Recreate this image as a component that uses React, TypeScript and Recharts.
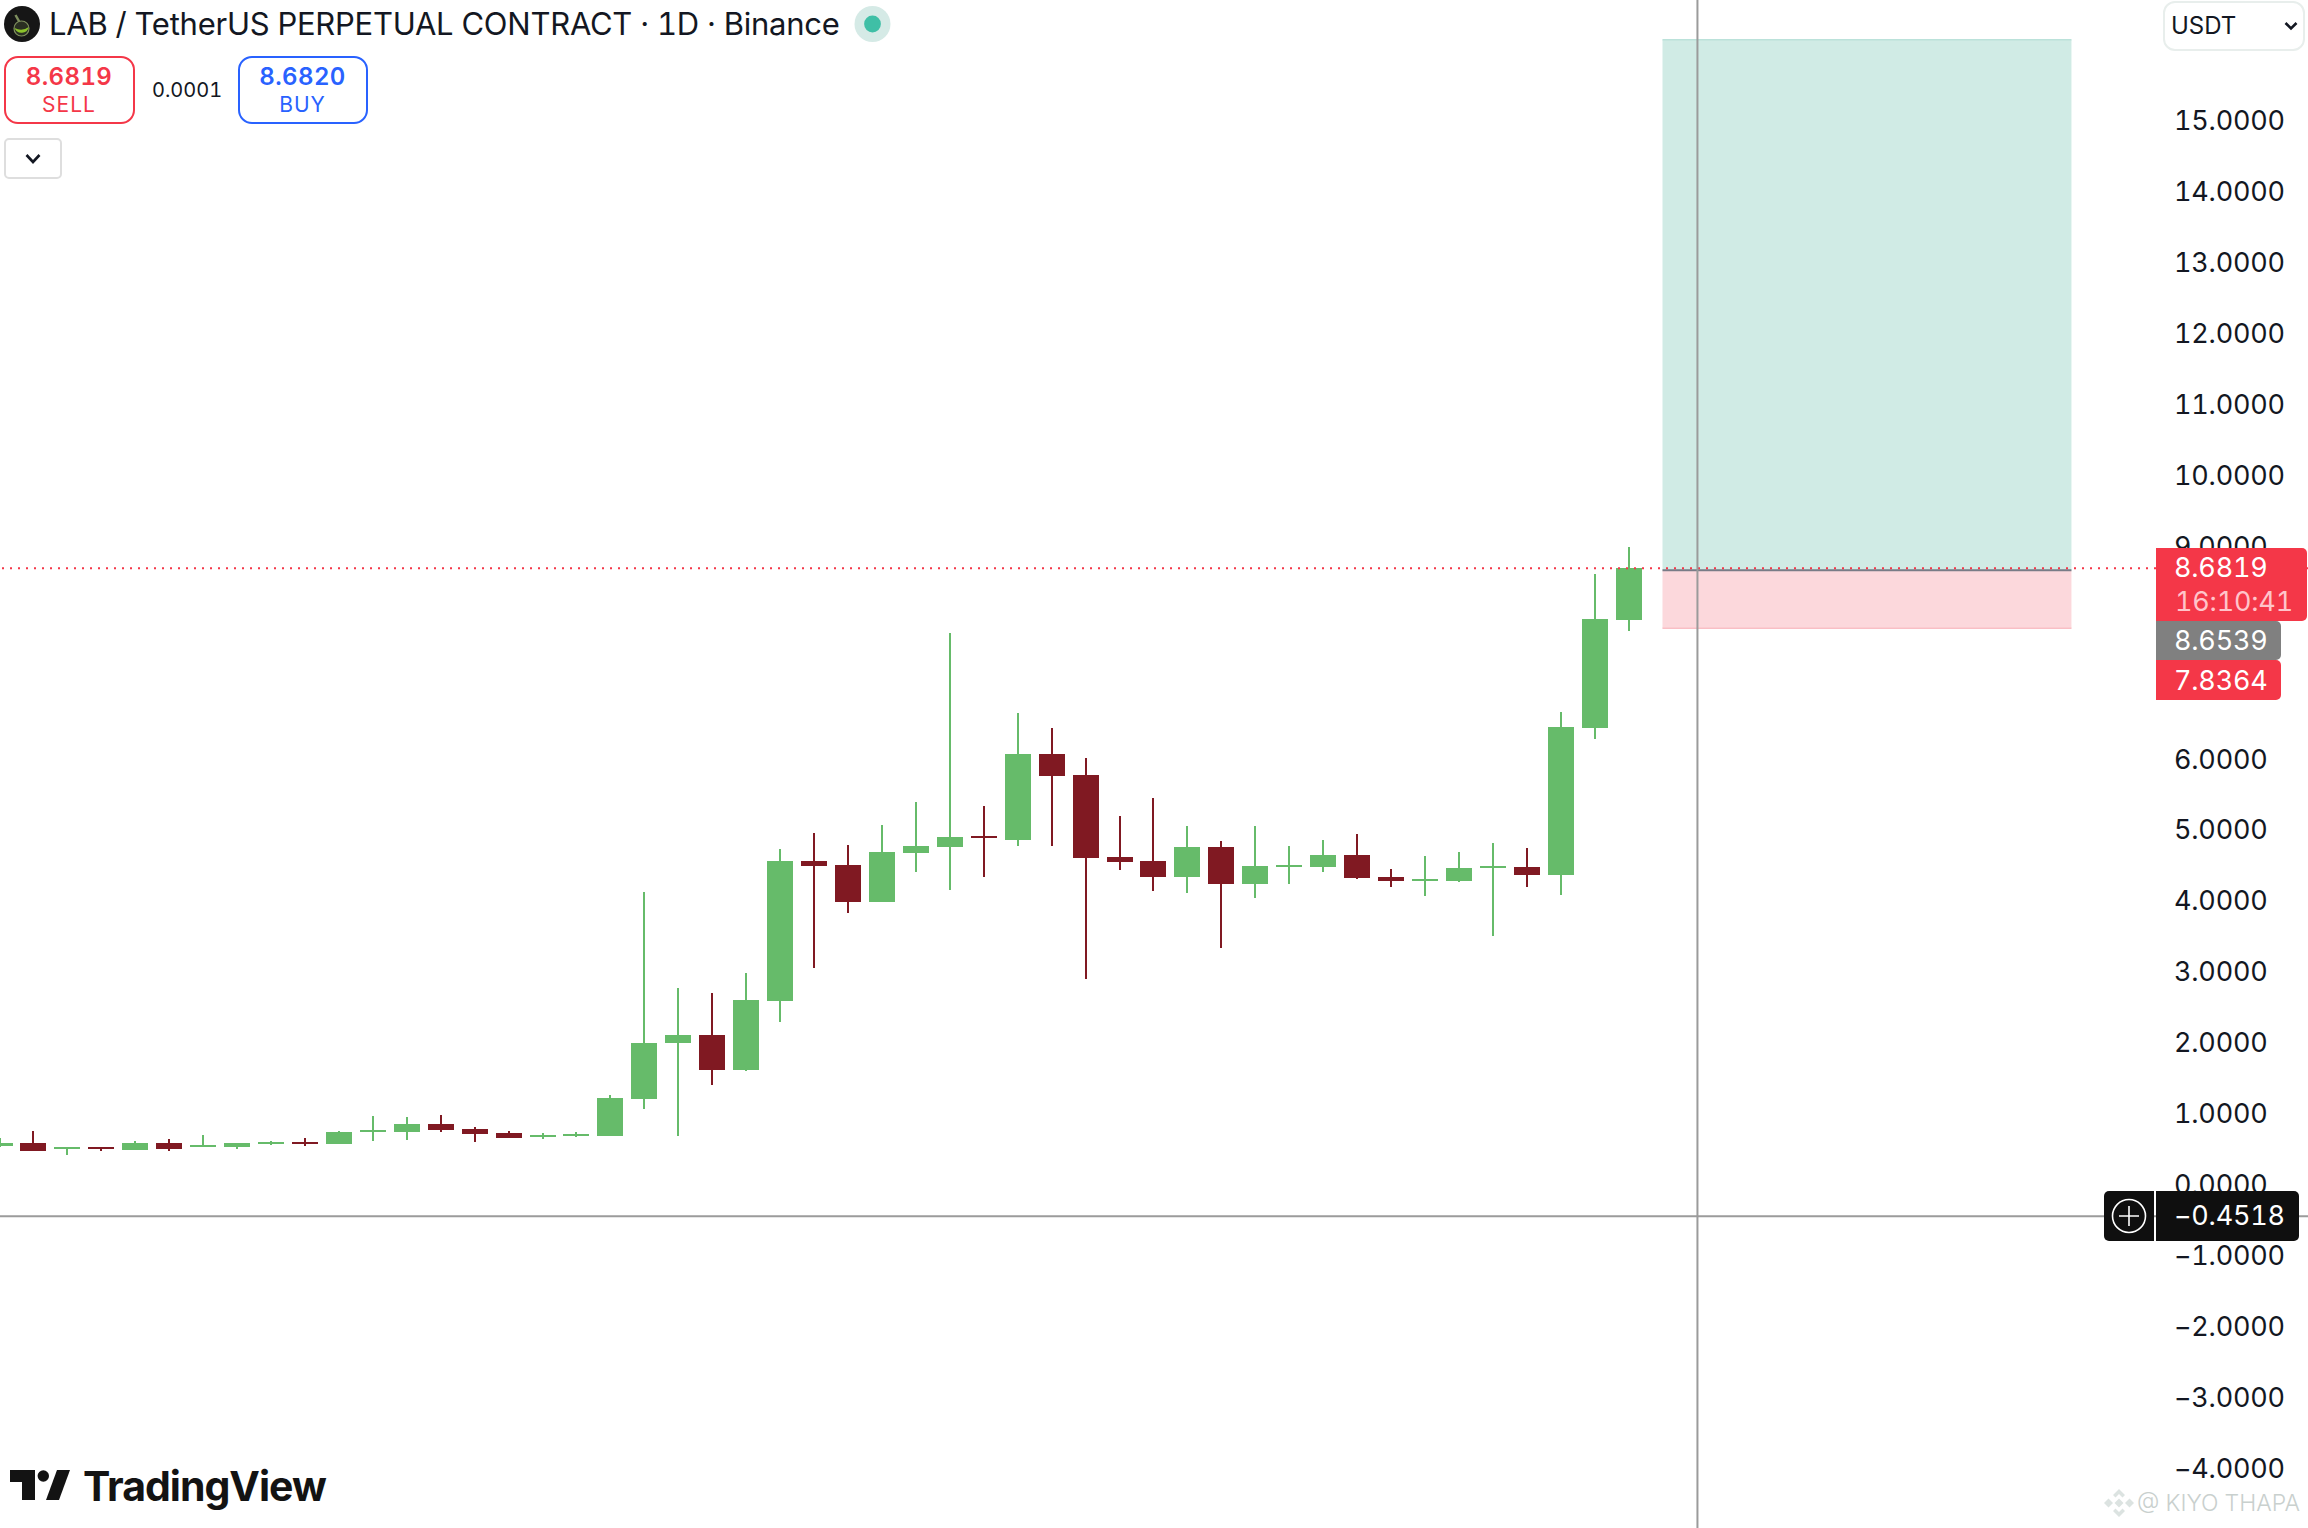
import React from "react";
import { ComposedChart, Bar, XAxis, YAxis, ReferenceArea, ReferenceLine } from "recharts";

const W = 2308;
const H = 1528;
const FONT = "Inter, 'Noto Sans', sans-serif";

const opens = [0.538,0.581,0.496,0.524,0.482,0.581,0.524,0.524,0.567,0.595,0.567,0.736,0.736,0.848,0.778,0.722,0.665,0.679,0.679,1.202,1.992,2.103,1.61,2.581,4.554,4.499,3.975,4.67,4.751,4.907,4.851,6.064,5.767,4.61,4.554,4.328,4.753,4.231,4.471,4.471,4.64,4.33,4.274,4.274,4.457,4.471,4.358,6.43,7.952];
const highs = [0.651,0.75,0.524,0.524,0.609,0.637,0.693,0.581,0.609,0.651,0.75,0.961,0.947,0.975,0.806,0.75,0.722,0.736,1.257,4.117,2.767,2.697,2.979,4.725,4.952,4.781,5.063,5.385,7.771,5.329,6.644,6.432,6.009,5.188,5.445,5.048,4.837,5.049,4.767,4.851,4.936,4.442,4.626,4.682,4.809,4.738,6.656,8.601,8.981];
const lows = [0.524,0.468,0.412,0.468,0.482,0.468,0.524,0.496,0.553,0.538,0.567,0.609,0.623,0.736,0.595,0.651,0.637,0.665,0.679,1.061,0.679,1.398,1.595,2.284,3.049,3.825,3.975,4.398,4.146,4.328,4.765,4.765,2.894,4.428,4.131,4.106,3.329,4.034,4.231,4.4,4.301,4.189,4.062,4.26,3.498,4.189,4.076,6.275,7.797];
const closes = [0.581,0.468,0.524,0.496,0.581,0.496,0.553,0.581,0.595,0.567,0.736,0.764,0.848,0.764,0.708,0.651,0.693,0.708,1.217,1.992,2.103,1.61,2.596,4.554,4.484,3.975,4.681,4.765,4.892,4.882,6.064,5.752,4.6,4.539,4.328,4.751,4.231,4.485,4.499,4.64,4.315,4.274,4.301,4.457,4.485,4.358,6.444,7.966,8.6819];

const priceTicks = [15,14,13,12,11,10,9,6,5,4,3,2,1,0,-1,-2,-3,-4];
const LAST_PRICE = 8.6819;
const ENTRY_PRICE = 8.6539;
const STOP_PRICE = 7.8364;
const TARGET_PRICE = 16.13;
const CROSS_PRICE = -0.4518;
const CROSS_BAR = 50.03;
const POS_START = 49;
const POS_END = 61.05;

const rows = opens.map((o, i) => ({
  idx: i,
  open: o,
  high: highs[i],
  low: lows[i],
  close: closes[i],
  range: [lows[i], highs[i]],
}));

const GREEN = "#66BB6A";
const DARK_RED = "#801922";
const RED = "#F43748";
const BLUE = "#2962FF";
const CROSS = "#9B9B9B";

function Candle(props: any) {
  const { x, y, width, height, payload } = props;
  const k = height / (payload.high - payload.low || 1);
  const color = payload.close >= payload.open ? GREEN : DARK_RED;
  const top = y + (payload.high - Math.max(payload.open, payload.close)) * k;
  const bh = Math.max(Math.abs(payload.open - payload.close) * k, 2);
  const cx = x + width / 2;
  return (
    <g shapeRendering="crispEdges">
      <rect x={cx - 1} y={y} width={2} height={Math.max(height, 1)} fill={color} />
      <rect x={x} y={top} width={width} height={bh} fill={color} />
    </g>
  );
}

function PriceTick(props: any) {
  const { y, payload } = props;
  const v = payload.value;
  const s = (v < 0 ? "\u2212" : "") + Math.abs(v).toFixed(4);
  return (
    <text x={2174} y={y + 10} textAnchor="start" fontFamily={FONT} fontSize={27} letterSpacing={-0.2} fill="#131722" style={{ fontVariantNumeric: "tabular-nums" }}>
      {s}
    </text>
  );
}

function T(p: { x: number; cy: number; size: number; color: string; weight?: number; center?: boolean; ls?: number; children: any }) {
  return (
    <div
      style={{
        position: "absolute",
        left: p.x,
        top: p.cy - 30,
        height: 60,
        lineHeight: "60px",
        fontFamily: FONT,
        fontSize: p.size,
        color: p.color,
        fontWeight: p.weight ?? 400,
        letterSpacing: p.ls ?? 0,
        fontVariantNumeric: "tabular-nums",
        whiteSpace: "nowrap",
        transform: p.center ? "translateX(-50%)" : undefined,
      }}
    >
      {p.children}
    </div>
  );
}

function Box(p: { x: number; y: number; w: number; h: number; style: React.CSSProperties; children?: any }) {
  return (
    <div style={{ position: "absolute", left: p.x, top: p.y, width: p.w, height: p.h, boxSizing: "border-box", ...p.style }}>
      {p.children}
    </div>
  );
}

export default function App() {
  return (
    <div style={{ position: "absolute", left: 0, top: 0, width: W, height: H, overflow: "hidden", background: "#fff" }}>
      <ComposedChart width={W} height={H} data={rows} margin={{ top: 0, right: 0, bottom: 0, left: 0 }}>
        <XAxis type="number" dataKey="idx" domain={[0.0147, 68.02]} allowDataOverflow hide />
        <YAxis
          orientation="right"
          mirror
          domain={[-4.846, 16.691]}
          allowDataOverflow
          ticks={priceTicks}
          interval={0}
          axisLine={false}
          tickLine={false}
          tick={<PriceTick />}
        />
        <ReferenceArea x1={POS_START} x2={POS_END} y1={ENTRY_PRICE} y2={TARGET_PRICE} fill="#D0EBE5" fillOpacity={1} stroke="none" />
        <ReferenceArea x1={POS_START} x2={POS_END} y1={STOP_PRICE} y2={ENTRY_PRICE} fill="#FCD8DC" fillOpacity={1} stroke="none" />
        <ReferenceLine segment={[{ x: POS_START, y: TARGET_PRICE }, { x: POS_END, y: TARGET_PRICE }]} stroke="#BBE2DA" strokeWidth={1.5} />
        <ReferenceLine segment={[{ x: POS_START, y: STOP_PRICE }, { x: POS_END, y: STOP_PRICE }]} stroke="#F9BFC5" strokeWidth={1.5} />
        <ReferenceLine segment={[{ x: POS_START, y: ENTRY_PRICE }, { x: POS_END, y: ENTRY_PRICE }]} stroke="#787B86" strokeWidth={2} />
        <Bar dataKey="range" barSize={26} shape={<Candle />} isAnimationActive={false} />
        <ReferenceLine y={LAST_PRICE} stroke={RED} strokeWidth={2} strokeDasharray="2 6" />
        <ReferenceLine x={CROSS_BAR} stroke={CROSS} strokeWidth={2} />
        <ReferenceLine y={CROSS_PRICE} stroke={CROSS} strokeWidth={2} />
      </ComposedChart>

      {/* header */}
      <svg style={{ position: "absolute", left: 0, top: 0 }} width={900} height={50}>
        <circle cx={22} cy={24} r={18} fill="#161616" />
        <path d="M15.5 15 L20 23" stroke="#7E8F5E" strokeWidth={2.5} />
        <circle cx={21.5} cy={28.5} r={7.5} fill="#2A2F22" stroke="#7E8F5E" strokeWidth={1.2} />
        <path d="M14.5 28 Q22 32 28.8 27 A7.5 7.5 0 0 1 14.5 28 Z" fill="#8BC32A" />
        <circle cx={872.5} cy={24} r={18} fill="#D5EAE6" />
        <circle cx={872.5} cy={24} r={8.4} fill="#3FBFA6" />
      </svg>
      <T x={49} cy={24} size={31} color="#131722" ls={-0.25}>LAB / TetherUS PERPETUAL CONTRACT · 1D · Binance</T>

      <Box x={4} y={56} w={130.5} h={68} style={{ border: `2px solid ${RED}`, borderRadius: 14 }} />
      <T x={69} cy={77} size={24} color={RED} weight={600} center ls={0.4}>8.6819</T>
      <T x={69} cy={104.5} size={21} color={RED} center ls={1}>SELL</T>
      <T x={152} cy={90} size={20} color="#131722">0.0001</T>
      <Box x={237.5} y={56} w={130} h={68} style={{ border: `2px solid ${BLUE}`, borderRadius: 14 }} />
      <T x={302.5} cy={77} size={24} color={BLUE} weight={600} center ls={0.4}>8.6820</T>
      <T x={302.5} cy={104.5} size={21} color={BLUE} center ls={1}>BUY</T>

      <Box x={4} y={138} w={57.5} h={41} style={{ border: "2px solid #DEDEDE", borderRadius: 5 }} />
      <svg style={{ position: "absolute", left: 24, top: 152 }} width={18} height={14}>
        <path d="M2.5 3 L9 10 L15.5 3" fill="none" stroke="#131722" strokeWidth={2.6} />
      </svg>

      {/* currency selector */}
      <Box x={2163} y={1} w={142} h={50} style={{ border: "2px solid #E8EEEC", borderRadius: 12 }} />
      <T x={2171} cy={26} size={24} color="#131722">USDT</T>
      <svg style={{ position: "absolute", left: 2283, top: 20 }} width={16} height={12}>
        <path d="M2.5 3 L8 8.5 L13.5 3" fill="none" stroke="#131722" strokeWidth={2.6} />
      </svg>

      {/* price tags */}
      <Box x={2156} y={548} w={151} h={73} style={{ background: RED, borderRadius: "0 5px 5px 0" }} />
      <T x={2174} cy={568} size={27} color="#FFFFFF" ls={-0.2}>8.6819</T>
      <T x={2175} cy={602} size={27} color="#FFC4CA" ls={-0.2}>16:10:41</T>
      <Box x={2156} y={621} w={125} h={39} style={{ background: "#808080", borderRadius: "0 5px 5px 0" }} />
      <T x={2174} cy={640.5} size={27} color="#FFFFFF" ls={-0.2}>8.6539</T>
      <Box x={2156} y={660} w={125} h={40} style={{ background: RED, borderRadius: "0 5px 5px 0" }} />
      <T x={2174} cy={680.5} size={27} color="#FFFFFF" ls={-0.2}>7.8364</T>

      {/* crosshair tag */}
      <Box x={2104} y={1191} w={50} h={50} style={{ background: "#0F0F0F", borderRadius: "5px 0 0 5px" }} />
      <svg style={{ position: "absolute", left: 2104, top: 1191 }} width={50} height={50}>
        <circle cx={25} cy={25} r={16.5} fill="none" stroke="#fff" strokeWidth={1.6} />
        <path d="M25 15 V35 M15 25 H35" stroke="#fff" strokeWidth={1.6} />
      </svg>
      <Box x={2156} y={1191} w={143} h={50} style={{ background: "#0F0F0F", borderRadius: "0 5px 5px 0" }} />
      <T x={2174} cy={1216} size={27} color="#FFFFFF" ls={-0.2}>{"\u22120.4518"}</T>

      {/* brand */}
      <svg style={{ position: "absolute", left: 0, top: 1460 }} width={80} height={50}>
        <path d="M10 10 H35 V40 H22 V22 H10 Z" fill="#131313" />
        <circle cx={43.3} cy={16} r={5.7} fill="#131313" />
        <path d="M57 10 H70 L59 40 H46 Z" fill="#131313" />
      </svg>
      <T x={83} cy={1485.5} size={41} color="#131313" weight={700} ls={-1}>TradingView</T>

      {/* watermark */}
      <svg style={{ position: "absolute", left: 2104, top: 1488 }} width={30} height={30}>
        <g fill="#DCE3E1">
          <path d="M15 1 L21 7 L18.5 9.5 L15 6 L11.5 9.5 L9 7 Z" />
          <path d="M15 29 L21 23 L18.5 20.5 L15 24 L11.5 20.5 L9 23 Z" />
          <path d="M15 10.5 L19.5 15 L15 19.5 L10.5 15 Z" />
          <path d="M4.5 10.5 L9 15 L4.5 19.5 L0 15 Z" />
          <path d="M25.5 10.5 L30 15 L25.5 19.5 L21 15 Z" />
        </g>
      </svg>
      <T x={2137} cy={1503} size={23} color="#C9D0CE" weight={300}>@ KIYO THAPA</T>
    </div>
  );
}
